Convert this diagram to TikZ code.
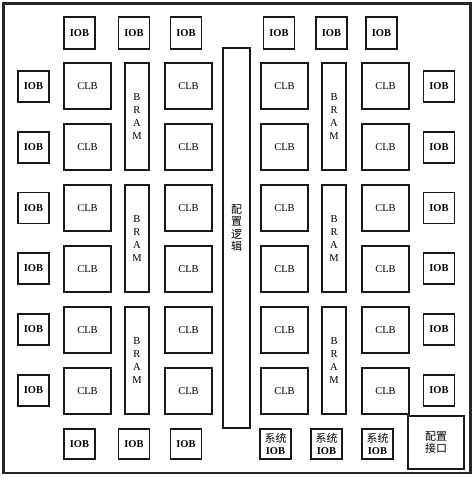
\documentclass[tikz,border=0pt]{standalone}
\usepackage{fontspec}
\setmainfont{Liberation Serif}
\newfontfamily\cjk{Noto Sans CJK SC}
\begin{document}
\begin{tikzpicture}[x=1pt,y=-1pt,
  blk/.style={draw=black!90, line width=1.4pt, fill=white, inner sep=0pt, outer sep=0pt},
  iob/.style={blk, minimum width=31pt, minimum height=31pt, font=\fontsize{10.5}{12}\selectfont\bfseries},
  clb/.style={blk, minimum width=47pt, minimum height=46pt, font=\fontsize{10.5}{12}\selectfont},
  bram/.style={blk, minimum width=24pt, minimum height=107pt, font=\fontsize{10.5}{13}\selectfont, align=center},
  sysiob/.style={blk, minimum width=31pt, minimum height=30pt, align=center, font=\fontsize{10.5}{12.5}\selectfont\bfseries},
]
\useasboundingbox (0,0) rectangle (474,479);
\draw[line width=2.6pt, black!85] (3.5,3.5) rectangle (470.5,473);

% top IOBs
\foreach \x [count=\i] in {79.5,134,186,279,331.5,381.5}
  \node[iob, minimum height=32pt] (top\i) at (\x,33) {IOB};
% bottom IOBs
\foreach \x [count=\i] in {79.5,134,186}
  \node[iob, minimum height=30pt] (bot\i) at (\x,444) {IOB};
\foreach \x [count=\i] in {275.5,326.5,377.5}
  \node[sysiob] (sys\i) at (\x,444) {{\cjk\fontsize{11}{12.5}\selectfont\mdseries 系统}\\IOB};
% side IOBs
\foreach \y [count=\i] in {86.5,147.5,208,268.5,329.5,390.5} {
  \node[iob] (left\i) at (33.5,\y) {IOB};
  \node[iob] (right\i) at (439,\y) {IOB};
}
% CLBs
\foreach \x [count=\c] in {87.5,188.5,284.5,385.5}
  \foreach \y [count=\r] in {86,147,208,269,330,391}
    \node[clb] (clb\c\r) at (\x,\y) {CLB};
% BRAMs
\foreach \x [count=\c] in {137,334}
  \foreach \y [count=\r] in {116.5,238.5,360.5}
    \node[bram] (bram\c\r) at (\x,\y) {B\\R\\A\\M};
% config logic
\node[blk, minimum width=27pt, minimum height=380pt,
  label={[font=\cjk\fontsize{11}{12.3}\selectfont, align=center, yshift=10pt]center:配\\置\\逻\\辑}] (cfg) at (236.5,238) {};
% config interface
\node[blk, minimum width=56pt, minimum height=53pt, align=center,
  font=\cjk\fontsize{11}{12.5}\selectfont] (cfgif) at (436,442.5) {配置\\接口};
\end{tikzpicture}
\end{document}
